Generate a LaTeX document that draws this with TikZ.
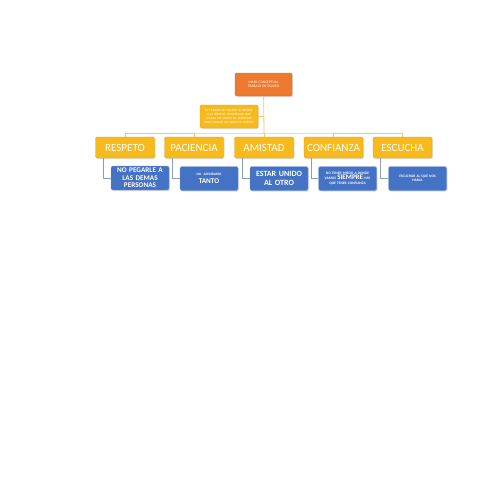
\documentclass[tikz,border=0pt]{standalone}
\usepackage{fontspec}
\setmainfont{Carlito}
\usetikzlibrary{shadows}
\definecolor{mapaorange}{HTML}{EE7A30}
\definecolor{mapagold}{HTML}{F7BA1C}
\definecolor{mapablue}{HTML}{4472C4}
\definecolor{linegold}{HTML}{F0CB66}
\definecolor{lineblue}{HTML}{8C9DBB}
\tikzset{
	cajatop/.style = {fill = mapaorange, draw = mapaorange!85!black, line width = 0.4pt, rounded corners = 1.5pt, inner sep = 1pt, minimum width = 57pt, minimum height = 23pt, text width = 54pt, align = center, text = white, font = \fontsize{3.6}{4.2}\selectfont, drop shadow = {opacity = 0.25, shadow xshift = 1pt, shadow yshift = -1pt}},
	cajanota/.style = {cajatop, fill = mapagold, draw = mapagold!90!black, minimum width = 58pt, text width = 55pt, font = \fontsize{3.2}{3.8}\selectfont},
	cajavalor/.style = {cajatop, fill = mapagold, draw = mapagold!90!black, minimum width = 59pt, minimum height = 21pt, text width = 57pt, font = \fontsize{11}{11}\selectfont},
	cajahijo/.style = {cajatop, fill = mapablue, draw = mapablue!70!white, minimum width = 58pt, minimum height = 24pt, text width = 56pt, font = \bfseries\fontsize{7.2}{7.4}\selectfont},
	ramagold/.style = {draw = linegold, line width = 0.8pt},
	ramablue/.style = {draw = lineblue, line width = 0.8pt}
}
\begin{document}
\begin{tikzpicture}[x = 1pt, y = -1pt]
	\useasboundingbox [fill = white] (0, 0) rectangle (495, 495);

	\coordinate (barra) at (264, 133);
	\coordinate (baja) at (264, 115);

	\node [cajatop] (mapa) at (263.5, 84.5) {MAPA CONCEPTUAL\\TRABAJO EN EQUIPO};
	\node [cajanota] (nota) at (229, 116.5) {EL TRABAJO EN EQUIPO SE REFIERE A LA SERIE DE ESTRATEGIAS QUE UTILIZA UN GRUPO DE PERSONAS PARA LOGRAR UN OBJETIVO COM\'UN};

	\node [cajavalor] (respeto) at (125, 147.5) {RESPETO};
	\node [cajavalor] (paciencia) at (194, 147.5) {PACIENCIA};
	\node [cajavalor] (amistad) at (264, 147.5) {AMISTAD};
	\node [cajavalor] (confianza) at (333.5, 147.5) {CONFIANZA};
	\node [cajavalor] (escucha) at (402.5, 147.5) {ESCUCHA};

	\node [cajahijo] (pegarle) at (140, 178) {NO PEGARLE A\\LAS DEMAS\\PERSONAS};
	\node [cajahijo] (acelerarse) at (209, 178.5) {{\fontsize{3.4}{4}\selectfont NO ACELERARSE}\\TANTO};
	\node [cajahijo, font = \bfseries\fontsize{8}{8.6}\selectfont] (unido) at (279, 178.5) {ESTAR UNIDO\\AL OTRO};
	\node [cajahijo, font = \bfseries\fontsize{3.6}{4.6}\selectfont] (miedo) at (347.5, 178.5) {NO TENER MIEDO A DONDE\\VAMOS {\fontsize{7}{7}\selectfont SIEMPRE} HAY\\QUE TENER CONFIANZA};
	\node [cajahijo, font = \bfseries\fontsize{3.6}{4.4}\selectfont] (habla) at (417.5, 178.5) {ESCUCHAR AL QUE NOS\\HABLA};

	\draw [ramagold] (mapa) -- (barra);
	\draw [ramagold] (nota.east) -- (nota.east -| baja);
	\draw [ramagold] (respeto.north) |- (barra) -| (escucha.north);
	\draw [ramagold] (paciencia.north) -- (paciencia.north |- barra);
	\draw [ramagold] (amistad.north) -- (barra);
	\draw [ramagold] (confianza.north) -- (confianza.north |- barra);

	\draw [ramablue] ([xshift = -22pt] respeto.south) |- (pegarle.west);
	\draw [ramablue] ([xshift = -22pt] paciencia.south) |- (acelerarse.west);
	\draw [ramablue] ([xshift = -22pt] amistad.south) |- (unido.west);
	\draw [ramablue] ([xshift = -22pt] confianza.south) |- (miedo.west);
	\draw [ramablue] ([xshift = -22pt] escucha.south) |- (habla.west);
\end{tikzpicture}
\end{document}
